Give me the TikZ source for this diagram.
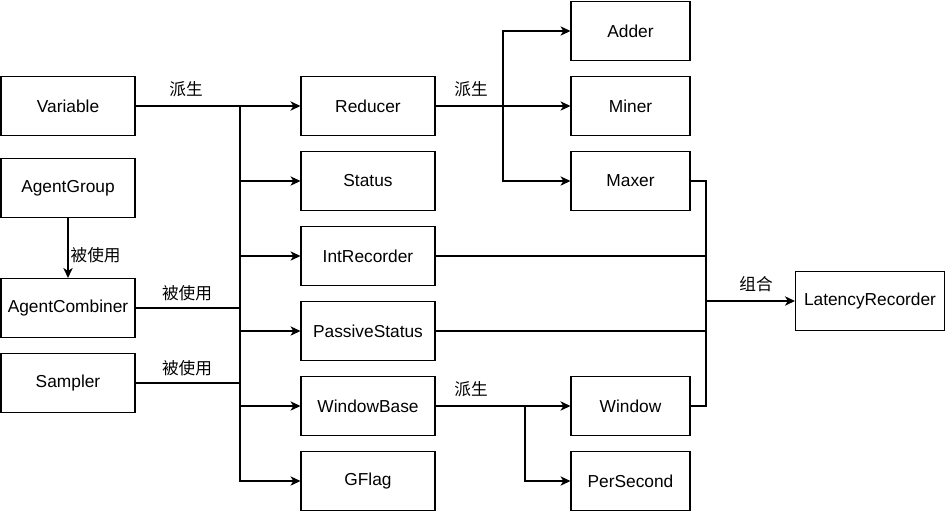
\documentclass[tikz,border=0pt]{standalone}
\usepackage{fontspec}
\setmainfont{Liberation Sans}
\newfontfamily\cjk{Noto Sans CJK SC}
\usetikzlibrary{arrows.meta}
\begin{document}
\begin{tikzpicture}[x=0.75pt,y=-0.75pt,
  box/.style={draw, line width=0.8pt, minimum width=100.5pt, minimum height=44.25pt, inner sep=0pt, font=\fontsize{13}{15}\selectfont},
  sbox/.style={box, minimum width=89.25pt},
  lbox/.style={box, minimum width=111.75pt},
  edge/.style={draw, line width=0.8pt},
  bold/.style={draw, line width=1.5pt},
  arr/.style={edge, -{Stealth[length=7.5pt, width=7pt, inset=2.2pt]}},
  barr/.style={bold, -{Stealth[length=7.5pt, width=7pt, inset=2.2pt]}},
  lab/.style={font=\cjk\fontsize{12.5}{14}\selectfont, inner sep=1pt}]
\useasboundingbox (0,0) rectangle (947,512);
% left column
\node[box] (var) at (68,106) {Variable};
\node[box] (ag) at (68,188) {AgentGroup};
\node[box] (ac) at (68,308) {AgentCombiner};
\node[box] (smp) at (68,383) {Sampler};
% middle column
\node[box] (red) at (368,106) {Reducer};
\node[box] (sta) at (368,181) {Status};
\node[box] (ir) at (368,256) {IntRecorder};
\node[box] (ps) at (368,331) {PassiveStatus};
\node[box] (wb) at (368,406) {WindowBase};
\node[box] (gf) at (368,481) {GFlag};
% right column
\node[sbox] (add) at (630.5,31) {Adder};
\node[sbox] (min) at (630.5,106) {Miner};
\node[sbox] (max) at (630.5,181) {Maxer};
\node[sbox] (win) at (630.5,406) {Window};
\node[sbox] (pss) at (630.5,481) {PerSecond};
\node[lbox] (lr) at (870,301) {LatencyRecorder};
% junctions
\coordinate (j1) at (240,106);
\coordinate (j2) at (503,106);
\coordinate (j3) at (525,406);
\coordinate (j4) at (706,301);
% Variable derivations
\draw[barr] (var.east) -- (red.west);
\draw[bold] (j1) -- (j1 |- gf.west);
\draw[arr] (j1) |- (sta.west);
\draw[arr] (j1) |- (ir.west);
\draw[arr] (j1) |- (ps.west);
\draw[arr] (j1) |- (wb.west);
\draw[arr] (j1) |- (gf.west);
\node[lab] at (186,89) {派生};
% used by
\draw[barr] (ag.south) -- (ac.north);
\node[lab, anchor=west] at (69,255) {被使用};
\draw[edge] (ac.east) -- (ac.east -| j1);
\node[lab] at (187,293) {被使用};
\draw[edge] (smp.east) -- (smp.east -| j1);
\node[lab] at (187,368) {被使用};
% Reducer derivations
\draw[bold] (red.east) -- (j2);
\draw[arr] (j2) |- (add.west);
\draw[arr] (j2) -- (min.west);
\draw[arr] (j2) |- (max.west);
\node[lab] at (471,89) {派生};
% WindowBase derivations
\draw[barr] (wb.east) -- (win.west);
\draw[arr] (j3) |- (pss.west);
\node[lab] at (471,389) {派生};
% combination
\draw[edge] (max.east) -| (j4);
\draw[edge] (win.east) -| (j4);
\draw[edge] (ir.east) -| (j4);
\draw[edge] (ps.east) -| (j4);
\draw[barr] (j4) -- (lr.west);
\node[lab] at (756,284) {组合};
\end{tikzpicture}
\end{document}
